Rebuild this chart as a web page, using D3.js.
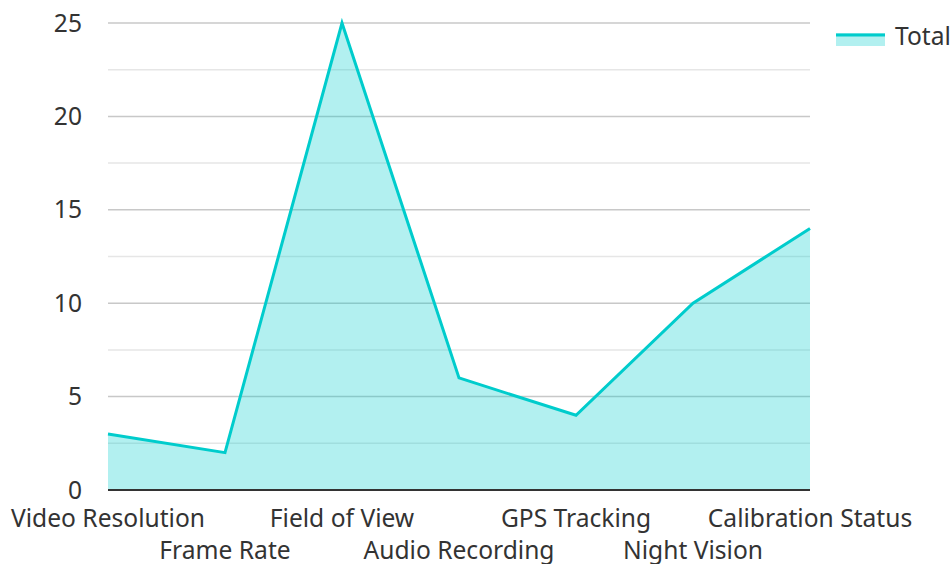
<!DOCTYPE html>
<html>
<head>
<meta charset="utf-8">
<script src="https://cdn.jsdelivr.net/npm/d3@7"></script>
<style>
  body { margin: 0; background: #fff; }
  text { font-family: "Noto Sans", "Open Sans", sans-serif; fill: #333; }
</style>
</head>
<body>
<script>

var categories = ["Video Resolution", "Frame Rate", "Field of View", "Audio Recording", "GPS Tracking", "Night Vision", "Calibration Status"];
var totals = [3, 2, 25, 6, 4, 10, 14];
var yTicks = [0, 5, 10, 15, 20, 25];
var yMinor = [2.5, 7.5, 12.5, 17.5, 22.5];
var seriesName = "Total";

var width = 951,
    height = 564,
    margin = {top: 23, right: 141, bottom: 74, left: 108};

var lineColor = "#00cccc",
    fillColor = "rgba(0, 204, 204, 0.3)";

var svg = d3.select("body").append("svg")
    .attr("width", width)
    .attr("height", height);

var x = d3.scalePoint()
    .domain(categories)
    .range([margin.left, width - margin.right]);

var y = d3.scaleLinear()
    .domain([0, 25])
    .range([height - margin.bottom, margin.top]);

// grid lines
svg.append("g").selectAll("line.minor")
    .data(yMinor)
  .enter().append("line")
    .attr("x1", margin.left)
    .attr("x2", width - margin.right)
    .attr("y1", function(d) { return y(d); })
    .attr("y2", function(d) { return y(d); })
    .attr("stroke", "#e6e6e6")
    .attr("stroke-width", 1.5);

svg.append("g").selectAll("line.major")
    .data(yTicks.slice(1))
  .enter().append("line")
    .attr("x1", margin.left)
    .attr("x2", width - margin.right)
    .attr("y1", function(d) { return y(d); })
    .attr("y2", function(d) { return y(d); })
    .attr("stroke", "#c8c8c8")
    .attr("stroke-width", 1.5);

var data = categories.map(function(c, i) { return {cat: c, value: totals[i]}; });

var area = d3.area()
    .x(function(d) { return x(d.cat); })
    .y0(y(0))
    .y1(function(d) { return y(d.value); });

var line = d3.line()
    .x(function(d) { return x(d.cat); })
    .y(function(d) { return y(d.value); });

svg.append("path")
    .datum(data)
    .attr("fill", fillColor)
    .attr("d", area);

svg.append("path")
    .datum(data)
    .attr("fill", "none")
    .attr("stroke", lineColor)
    .attr("stroke-width", 3)
    .attr("stroke-linejoin", "miter")
    .attr("d", line);

// x axis
svg.append("line")
    .attr("x1", margin.left)
    .attr("x2", width - margin.right)
    .attr("y1", y(0))
    .attr("y2", y(0))
    .attr("stroke", "#333")
    .attr("stroke-width", 2);

svg.append("g").selectAll("text")
    .data(categories)
  .enter().append("text")
    .attr("x", function(d) { return x(d); })
    .attr("y", function(d, i) { return i % 2 == 0 ? 527 : 559; })
    .attr("text-anchor", "middle")
    .style("font-size", "24.6px")
    .text(function(d) { return d; });

// y axis labels
svg.append("g").selectAll("text")
    .data(yTicks)
  .enter().append("text")
    .attr("x", 82)
    .attr("y", function(d) { return y(d); })
    .attr("dy", "0.35em")
    .attr("text-anchor", "end")
    .style("font-size", "24.6px")
    .text(function(d) { return d; });

// legend
var legend = svg.append("g").attr("transform", "translate(836,33)");
legend.append("rect")
    .attr("width", 49)
    .attr("height", 13)
    .attr("fill", fillColor);
legend.append("line")
    .attr("x1", 0).attr("x2", 49)
    .attr("y1", 2).attr("y2", 2)
    .attr("stroke", lineColor)
    .attr("stroke-width", 3);
legend.append("text")
    .attr("x", 59)
    .attr("y", 3)
    .attr("dy", "0.35em")
    .style("font-size", "24.6px")
    .text(seriesName);

</script>
</body>
</html>
